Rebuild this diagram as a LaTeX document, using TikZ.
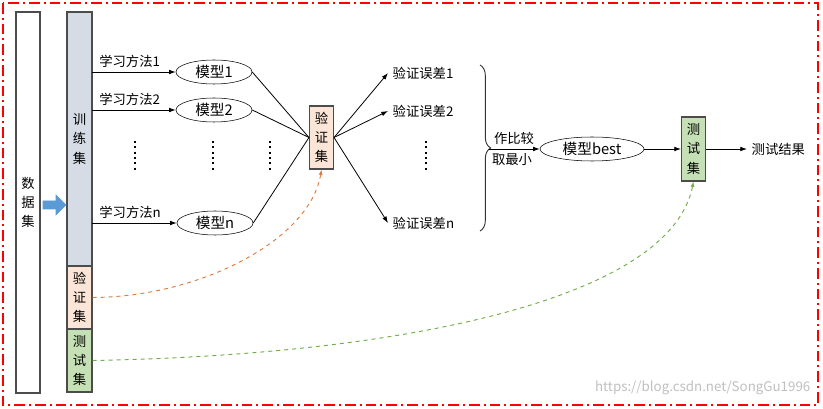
\documentclass[tikz,border=0pt]{standalone}
\usepackage{fontspec}
\setmainfont{Noto Sans CJK SC}
\usetikzlibrary{arrows.meta,decorations.pathreplacing,shapes.geometric}
\definecolor{gr}{HTML}{D6DCE5}\definecolor{pe}{HTML}{FBE5D6}\definecolor{gn}{HTML}{C5E0B4}
\definecolor{org}{HTML}{E07B39}\definecolor{dg}{HTML}{70AD47}\definecolor{bl}{HTML}{5B9BD5}
\begin{document}
\begin{tikzpicture}[x=0.75pt,y=-0.75pt,font=\fontsize{10}{11}\selectfont,
 col/.style={draw=black!70,line width=0.8pt,inner sep=0pt,align=center,font=\fontsize{10}{14.5}\selectfont},
 ell/.style={draw,ellipse,inner sep=0pt,font=\fontsize{11}{12}\selectfont},
 arr/.style={-{Latex[length=5pt,width=3.5pt]},line width=0.6pt},
 ln/.style={line width=0.6pt},
 vdots/.style={line width=1.6pt,dash pattern=on 1.6pt off 2.4pt}]
\useasboundingbox (0,0) rectangle (823,409);
\draw[red,line width=1.2pt,dash pattern=on 8pt off 3pt on 1.5pt off 3pt] (3,3) rectangle (818,405);
\node[col,fill=white,minimum width=18pt,minimum height=285.75pt] (data) at (28,202.5) {数\\据\\集};
\node[col,fill=gr,minimum width=18.75pt,minimum height=190.5pt] (train) at (79.5,139) {训\\练\\集};
\node[col,fill=pe,minimum width=18.75pt,minimum height=47.25pt] (val) at (79.5,297.5) {验\\证\\集};
\node[col,fill=gn,minimum width=18.75pt,minimum height=47.25pt] (test) at (79.5,360.5) {测\\试\\集};
\draw[bl,fill=bl] (43,201) -- (56,201) -- (56,195) -- (66,205) -- (56,215) -- (56,209) -- (43,209) -- cycle;
\coordinate (s1) at (92,72);\coordinate (s2) at (92,110);\coordinate (s3) at (92,223);
\node[ell,minimum width=57pt,minimum height=18pt] (m1) at (214,72) {模型1};
\node[ell,minimum width=57pt,minimum height=18pt] (m2) at (214,110) {模型2};
\node[ell,minimum width=57pt,minimum height=18pt] (mn) at (215,223) {模型n};
\draw[arr] (s1) -- node[above,pos=0.45]{学习方法1} (m1);
\draw[arr] (s2) -- node[above,pos=0.45]{学习方法2} (m2);
\draw[arr] (s3) -- node[above,pos=0.45]{学习方法n} (mn);
\foreach \x in {135,213,270}{\draw[vdots] (\x,141) -- (\x,171);}
\node[col,fill=pe,minimum width=18pt,minimum height=47.25pt] (v2) at (321.5,137.5) {验\\证\\集};
\foreach \m in {m1,m2,mn}{\draw[ln] (\m.east) -- (v2.west);}
\node[anchor=west] (e1) at (388,73) {验证误差1};
\node[anchor=west] (e2) at (388,111) {验证误差2};
\node[anchor=west] (en) at (388,223) {验证误差n};
\draw[arr] (v2.east) -- (e1.west);\draw[arr] (v2.east) -- (e2.west);\draw[arr] (v2.east) -- (en.west);
\draw[vdots] (426,141) -- (426,171);
\draw[decorate,decoration={brace,amplitude=8pt},line width=0.7pt,black!80] (480,65) -- (480,231);
\coordinate (bt) at (489,149);
\node[ell,minimum width=78pt,minimum height=18pt] (mb) at (592,149) {模型best};
\draw[arr] (bt) -- (mb.west);
\node[above] at (514,149) {作比较};\node[below] at (512,149) {取最小};
\node[col,fill=gn,minimum width=18pt,minimum height=48pt] (t2) at (693.5,149) {测\\试\\集};
\draw[arr] (mb.east) -- (t2.west);
\node[anchor=west] (res) at (747,149) {测试结果};
\draw[arr] (t2.east) -- (res.west);
\draw[org,dashed,line width=0.7pt,-{Latex[length=4pt,width=3pt]}] (val.east) .. controls (200,297) and (310,240) .. (v2.south);
\draw[dg,dashed,line width=0.7pt,-{Latex[length=4pt,width=3pt]}] (test.east) .. controls (400,355) and (670,300) .. (t2.south);
\node[text=black!25,anchor=south east] at (815,400) {https://blog.csdn.net/SongGu1996};
\end{tikzpicture}
\end{document}
